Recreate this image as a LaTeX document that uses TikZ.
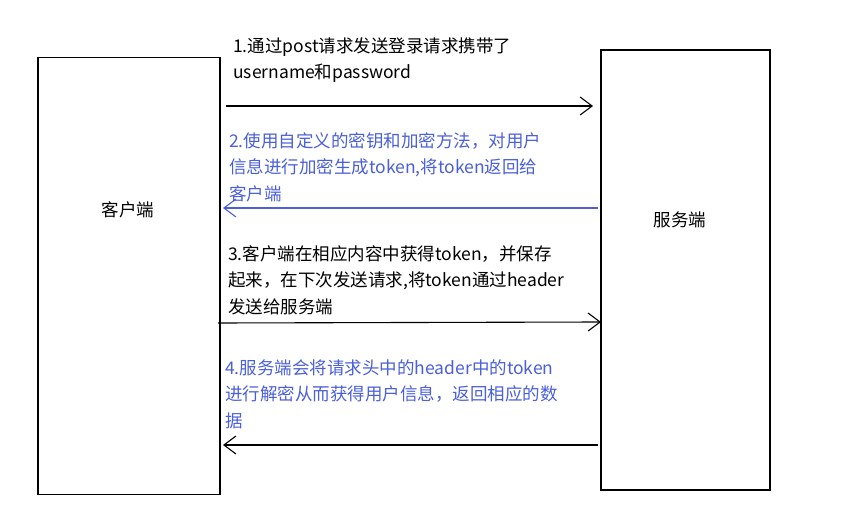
\documentclass[tikz,border=0pt]{standalone}
\usepackage{fontspec}
\setmainfont{Noto Sans CJK SC}
\usetikzlibrary{arrows.meta}
\definecolor{msgblue}{HTML}{4A5FD8}
\begin{document}
\begin{tikzpicture}
  [x=1pt,y=-1pt,
   every node/.style={font=\fontsize{17.5}{26.5}\selectfont},
   box/.style={draw,line width=1.2pt},
   msg/.style={anchor=west,align=left,inner sep=0pt},
   link/.style={line width=1.1pt,-{Straight Barb[length=12pt,width=18pt,line width=1.1pt]}}]
  \useasboundingbox (0,0) rectangle (853,518);

  \node[box,minimum width=182pt,minimum height=437pt] (client) at (129,276) {};
  \node[box,minimum width=169pt,minimum height=440pt] (server) at (685.5,270) {};
  \node (clientlabel) at (128,210) {客户端};
  \node (serverlabel) at (680,220) {服务端};

  \node[msg] (m1) at (233,60) {1.通过post请求发送登录请求携带了\\username和password};
  \node[msg,text=msgblue] (m2) at (229,167) {2.使用自定义的密钥和加密方法，对用户\\信息进行加密生成token,将token返回给\\客户端};
  \node[msg] (m3) at (228,280) {3.客户端在相应内容中获得token，并保存\\起来，在下次发送请求,将token通过header\\发送给服务端};
  \node[msg,text=msgblue] (m4) at (225,394) {4.服务端会将请求头中的header中的token\\进行解密从而获得用户信息，返回相应的数\\据};

  \coordinate (a1s) at (226,106);  \coordinate (a1e) at (593,106);
  \coordinate (a2s) at (598,208);  \coordinate (a2e) at (223,208);
  \coordinate (a3s) at (218,323);  \coordinate (a3e) at (601,322);
  \coordinate (a4s) at (598,445);  \coordinate (a4e) at (223,445);

  \draw[link] (a1s) -- (a1e);
  \draw[link,msgblue] (a2s) -- (a2e);
  \draw[link] (a3s) -- (a3e);
  \draw[link] (a4s) -- (a4e);
\end{tikzpicture}
\end{document}
